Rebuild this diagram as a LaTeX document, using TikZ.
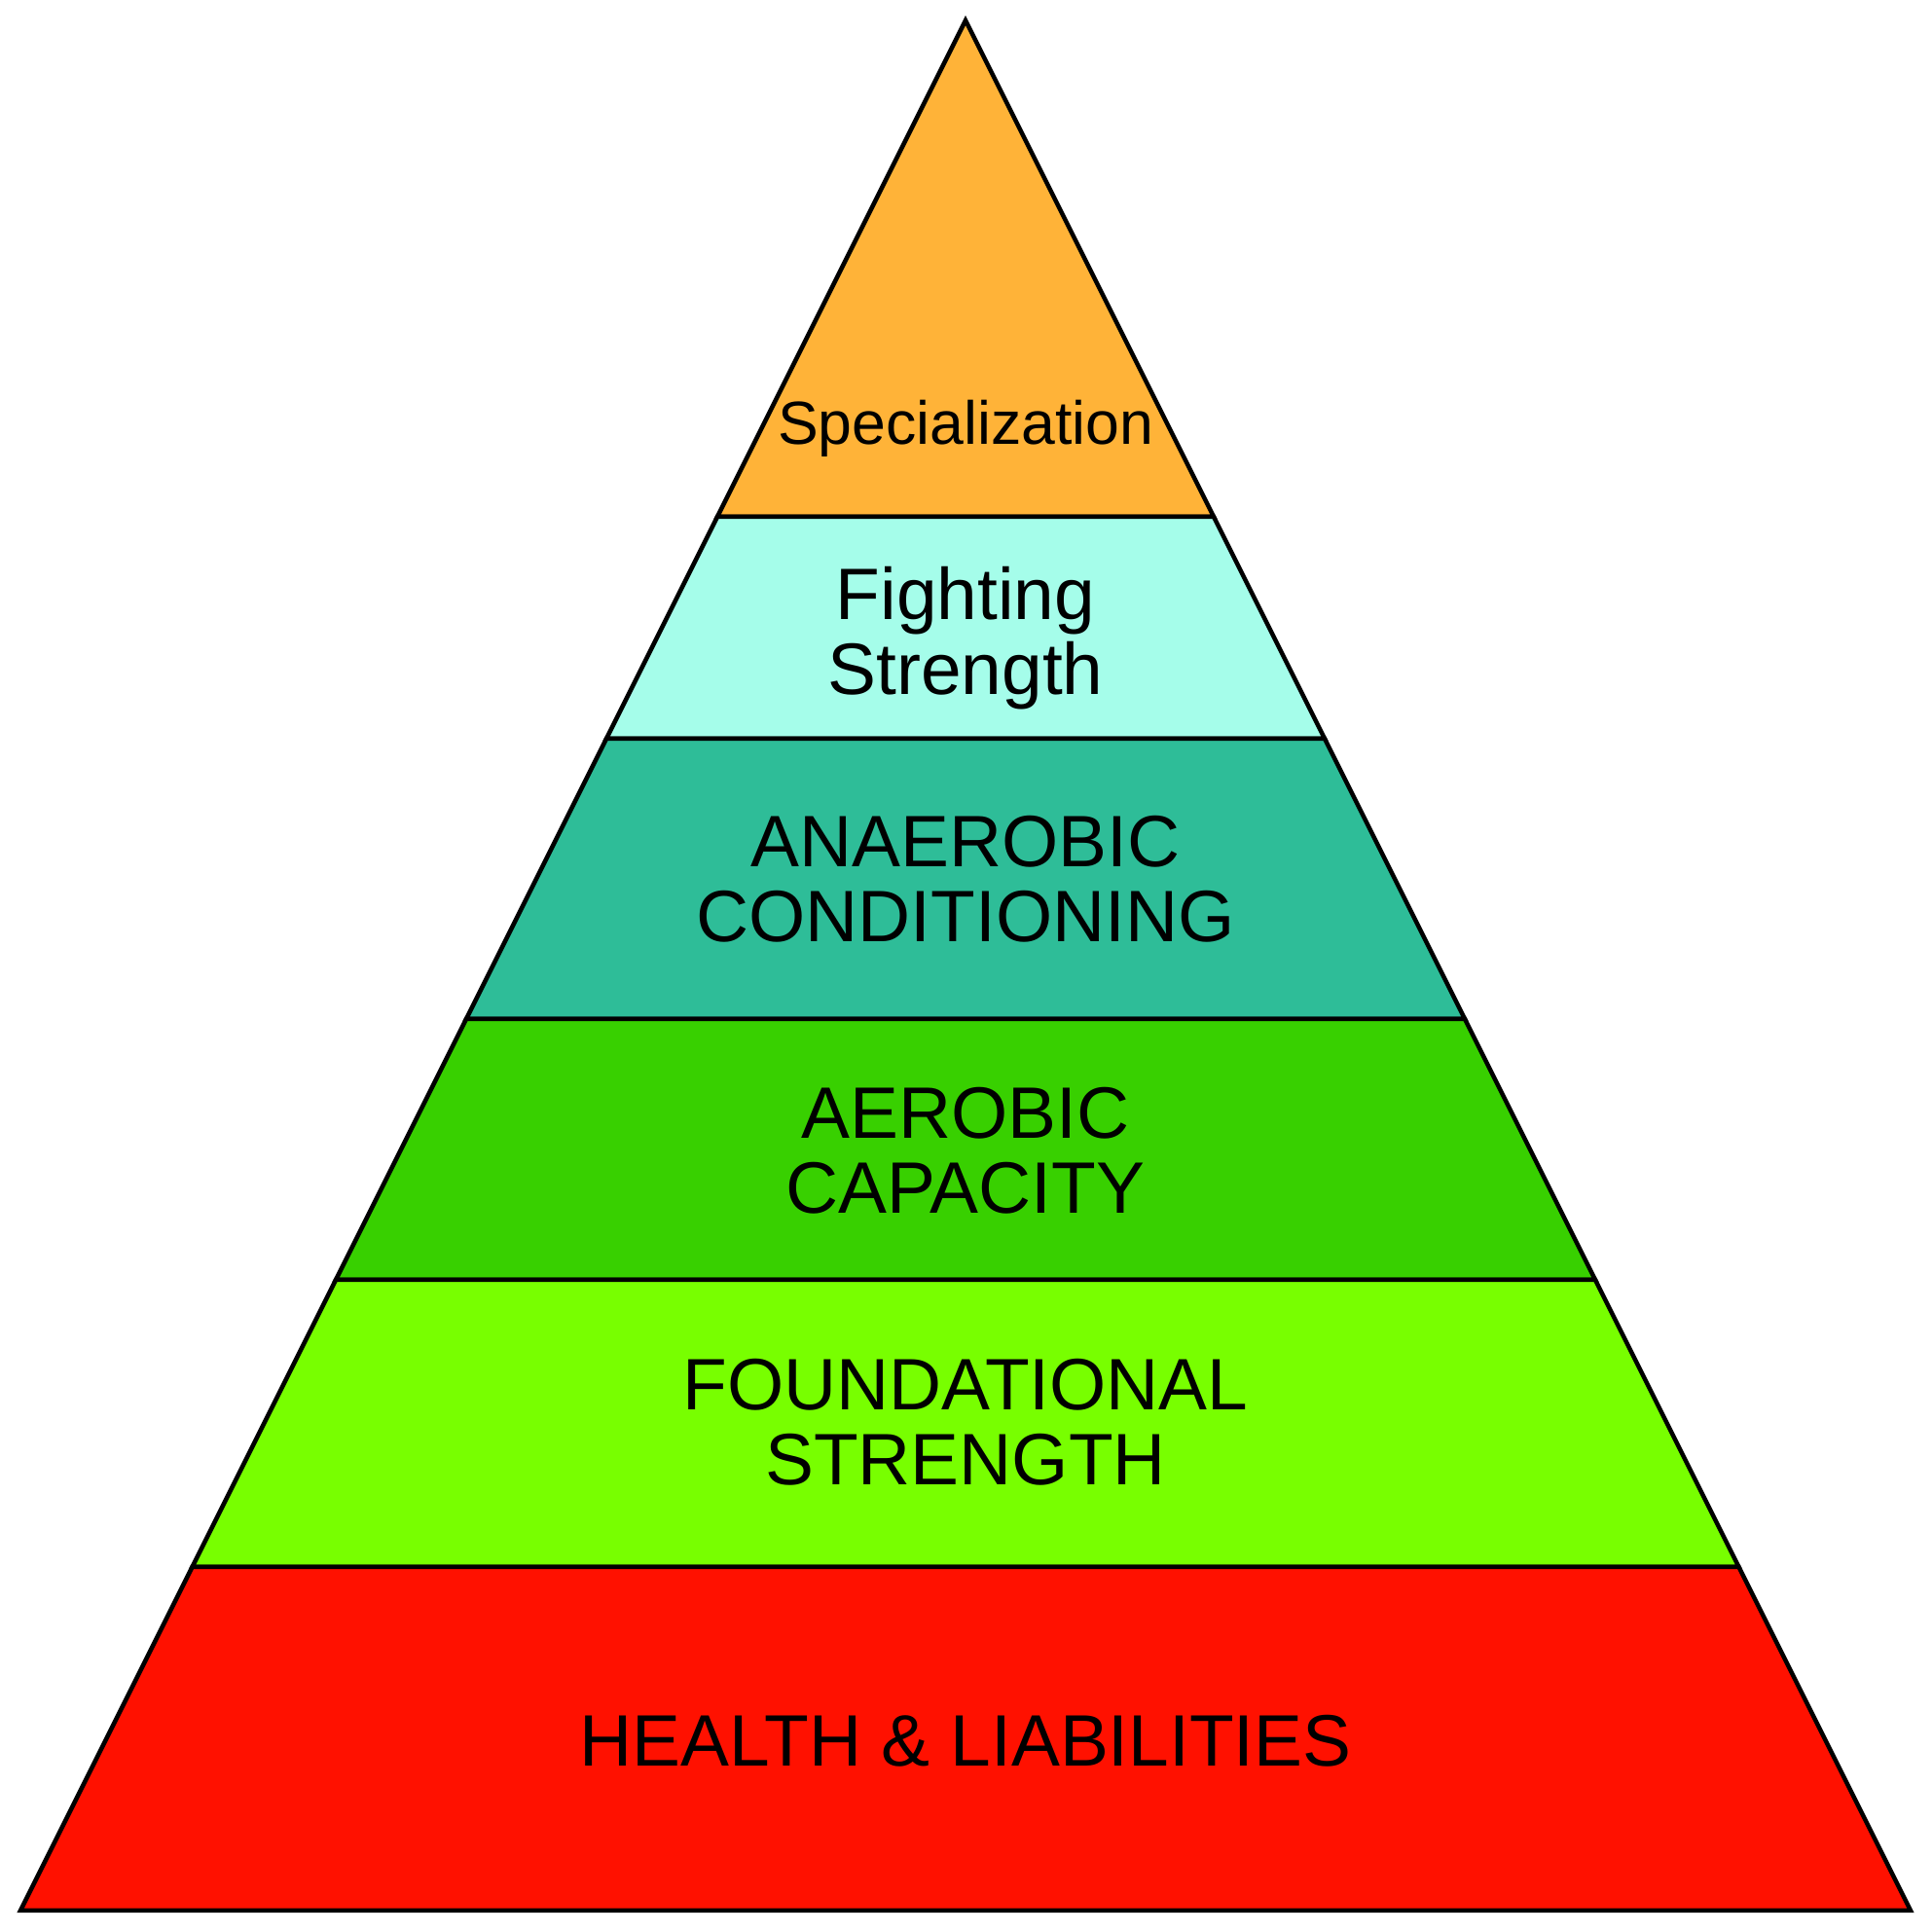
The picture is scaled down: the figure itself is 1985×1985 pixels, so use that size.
\documentclass[tikz,border=0pt]{standalone}
\usepackage{fontspec}
\setmainfont{Liberation Sans}

\definecolor{specorange}{RGB}{255,179,56}
\definecolor{fightcyan}{RGB}{165,253,234}
\definecolor{anaerteal}{RGB}{46,189,152}
\definecolor{aergreen}{RGB}{56,208,0}
\definecolor{foundlime}{RGB}{120,255,0}
\definecolor{healthred}{RGB}{255,17,0}

\begin{document}
\begin{tikzpicture}[x=0.1mm,y=0.1mm,
	band/.style={draw=black,line width=0.45mm,line join=miter},
	tiertext/.style={inner sep=0pt,align=center,font=\fontsize{21.3}{21.9}\selectfont}]
	\useasboundingbox (0,0) rectangle (1985,1985);

	%\draw[gray](21,22)--(992,1964)--(1963,22)--cycle;

	\filldraw[band,fill=specorange](992,1964)--(1247,1454)--(737,1454)--cycle;
	\filldraw[band,fill=fightcyan](737,1454)--(1247,1454)--(1361,1226)--(623,1226)--cycle;
	\filldraw[band,fill=anaerteal](623,1226)--(1361,1226)--(1505,938)--(479,938)--cycle;
	\filldraw[band,fill=aergreen](479,938)--(1505,938)--(1639,670)--(345,670)--cycle;
	\filldraw[band,fill=foundlime](345,670)--(1639,670)--(1786.5,375)--(197.5,375)--cycle;
	\filldraw[band,fill=healthred](197.5,375)--(1786.5,375)--(1963,22)--(21,22)--cycle;

	\node[tiertext,font=\fontsize{17.8}{18}\selectfont] (spec) at (992,1544.5) {Specialization};
	\node[tiertext] (fight) at (992,1329) {Fighting\\Strength};
	\node[tiertext] (anaer) at (992,1082) {ANAEROBIC\\CONDITIONING};
	\node[tiertext] (aer) at (992,803) {AEROBIC\\CAPACITY};
	\node[tiertext] (found) at (992,523.5) {FOUNDATIONAL\\STRENGTH};
	\node[tiertext] (health) at (992,196.5) {HEALTH \& LIABILITIES};

\end{tikzpicture}
\end{document}
